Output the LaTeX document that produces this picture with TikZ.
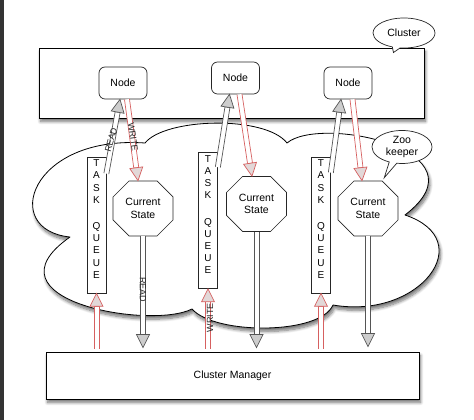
\documentclass[tikz,border=0pt]{standalone}
\usepackage{fontspec}
\setmainfont{Liberation Sans}
\usetikzlibrary{calc,shapes.misc,shapes.callouts,shadows,shadows.blur}
\definecolor{redln}{RGB}{214,96,96}
\definecolor{grayln}{RGB}{85,85,85}
\definecolor{headfill}{RGB}{205,205,205}
\definecolor{redhead}{RGB}{226,216,216}
\newcommand\fatarrow[4]{%
  \path (#3) coordinate (fs) (#4) coordinate (fe);
  \coordinate (fh) at ($(fe)!13pt!(fs)$);
  \filldraw[draw=#1, fill=white, line width=0.7pt]
    ($(fs)!2.5pt!90:(fe)$) -- ($(fh)!2.5pt!90:(fe)$) -- ($(fh)!2.5pt!-90:(fe)$) -- ($(fs)!2.5pt!-90:(fe)$);
  \filldraw[draw=#1, fill=#2, line width=0.7pt, line join=miter]
    ($(fh)!6.5pt!90:(fe)$) -- (fe) -- ($(fh)!6.5pt!-90:(fe)$) -- cycle;
}
\begin{document}
\begin{tikzpicture}[x=1pt,y=1pt,
  bigbox/.style={draw=black, line width=0.9pt, fill=white},
  shad/.style={blur shadow={shadow xshift=1.5pt, shadow yshift=-3.5pt, shadow blur radius=3pt, shadow blur steps=8, shadow opacity=55}},
  nodebox/.style={draw=black!85, line width=0.7pt, rounded corners=6pt, fill=white, minimum width=48pt, minimum height=32pt, inner sep=0pt, font=\fontsize{10.5}{12}\selectfont},
  tqbox/.style={draw=black!85, line width=0.7pt, fill=white, minimum width=19pt, minimum height=136pt, inner sep=0pt},
  tqtext/.style={align=center, inner sep=0pt, font=\fontsize{10}{12.2}\selectfont, anchor=north},
  csbox/.style={chamfered rectangle, chamfered rectangle xsep=8pt, chamfered rectangle ysep=8pt, draw=black!85, line width=0.7pt, fill=white, minimum width=60pt, minimum height=55pt, inner sep=0pt, align=center, font=\fontsize{10.5}{12.6}\selectfont},
  bubble/.style={ellipse callout, draw=black!85, line width=0.7pt, fill=white, inner sep=0pt, align=center, font=\fontsize{10.5}{12.6}\selectfont},
  lbl/.style={inner sep=0pt, font=\fontsize{9}{10}\selectfont, text=black!85},
]
\useasboundingbox (0,0) rectangle (474,420);
\fill[black!80] (0,0) rectangle (3.5,420);

% cluster box
\node[bigbox, shad, minimum width=385pt, minimum height=70pt] (cluster) at (231.5,337) {};

% zookeeper cloud
\draw[line width=0.8pt, fill=white, line join=round, shad]
  (145,277) .. controls (165,302) and (265,305) .. (287,277)
  .. controls (320,305) and (490,270) .. (405,205)
  .. controls (480,180) and (420,100) .. (333,115)
  .. controls (320,85) and (215,85) .. (192,111)
  .. controls (150,90) and (-20,120) .. (70,183)
  .. controls (0,190) and (30,285) .. (145,277) -- cycle;

% cluster manager
\node[bigbox, shad, minimum width=373pt, minimum height=47pt, font=\fontsize{10.5}{12}\selectfont] (cm) at (232.5,44.5) {Cluster Manager};

% nodes
\node[nodebox] (n1) at (123,337) {Node};
\node[nodebox] (n2) at (235.5,342) {Node};
\node[nodebox] (n3) at (348,337) {Node};

% task queues
\node[tqbox] (tq1) at (96.5,195) {};
\node[tqbox] (tq2) at (208,199.5) {};
\node[tqbox] (tq3) at (321,195) {};
\node[tqtext] (tq1t) at ($(tq1.north)+(0,-3)$) {T\\A\\S\\K\\[14pt]Q\\U\\E\\U\\E};
\node[tqtext] (tq2t) at ($(tq2.north)+(0,-3)$) {T\\A\\S\\K\\[14pt]Q\\U\\E\\U\\E};
\node[tqtext] (tq3t) at ($(tq3.north)+(0,-3)$) {T\\A\\S\\K\\[14pt]Q\\U\\E\\U\\E};

% current state
\node[csbox] (cs1) at (143,211.5) {Current\\State};
\node[csbox] (cs2) at (256.5,216) {Current\\State};
\node[csbox] (cs3) at (368,211.5) {Current\\State};

% callouts
\node[bubble, minimum width=62pt, minimum height=30pt,
  callout absolute pointer={($(cluster.north east)+(-31,-5)$)}] (clc) at (404,387) {Cluster};
\node[bubble, minimum width=60pt, minimum height=33pt,
  callout absolute pointer={($(cs3.north east)+(-6,11)$)}] (zkc) at (402,273) {Zoo\\keeper};

% arrows between nodes and queues / states
\fatarrow{grayln}{headfill}{$(tq1.north east)+(0,-17)$}{$(n1.south)+(-3,0)$}
\fatarrow{redln}{redhead}{$(n1.south)+(4,0)$}{$(cs1.north)+(-5,0)$}
\fatarrow{grayln}{headfill}{$(tq2.north east)+(0,-15)$}{$(n2.south)+(-6,0)$}
\fatarrow{redln}{redhead}{$(n2.south)+(4,0)$}{$(cs2.north)+(-4.5,0)$}
\fatarrow{grayln}{headfill}{$(tq3.north east)+(0,-16)$}{$(n3.south)+(-7,0)$}
\fatarrow{redln}{redhead}{$(n3.south)+(4.5,0)$}{$(cs3.north)+(-6,0)$}

% arrows to / from cluster manager
\fatarrow{redln}{redhead}{$(tq1.south |- cm.north)+(0,3)$}{tq1.south}
\fatarrow{redln}{redhead}{$(tq2.south |- cm.north)+(0,3)$}{tq2.south}
\fatarrow{redln}{redhead}{$(tq3.south |- cm.north)+(0,3)$}{tq3.south}
\fatarrow{grayln}{headfill}{cs1.south}{$(cs1.south |- cm.north)+(0,4)$}
\fatarrow{grayln}{headfill}{cs2.south}{$(cs2.south |- cm.north)+(0,4)$}
\fatarrow{grayln}{headfill}{cs3.south}{$(cs3.south |- cm.north)+(0,5)$}

% arrow labels
\node[lbl, rotate=74] (r1) at (111,280) {READ};
\node[lbl, rotate=-82] (w1) at (133,283) {WRITE};
\node[lbl, rotate=-90] (r2) at (143,130) {READ};
\node[lbl, rotate=90] (w2) at (210,102) {WRITE};
\end{tikzpicture}
\end{document}
